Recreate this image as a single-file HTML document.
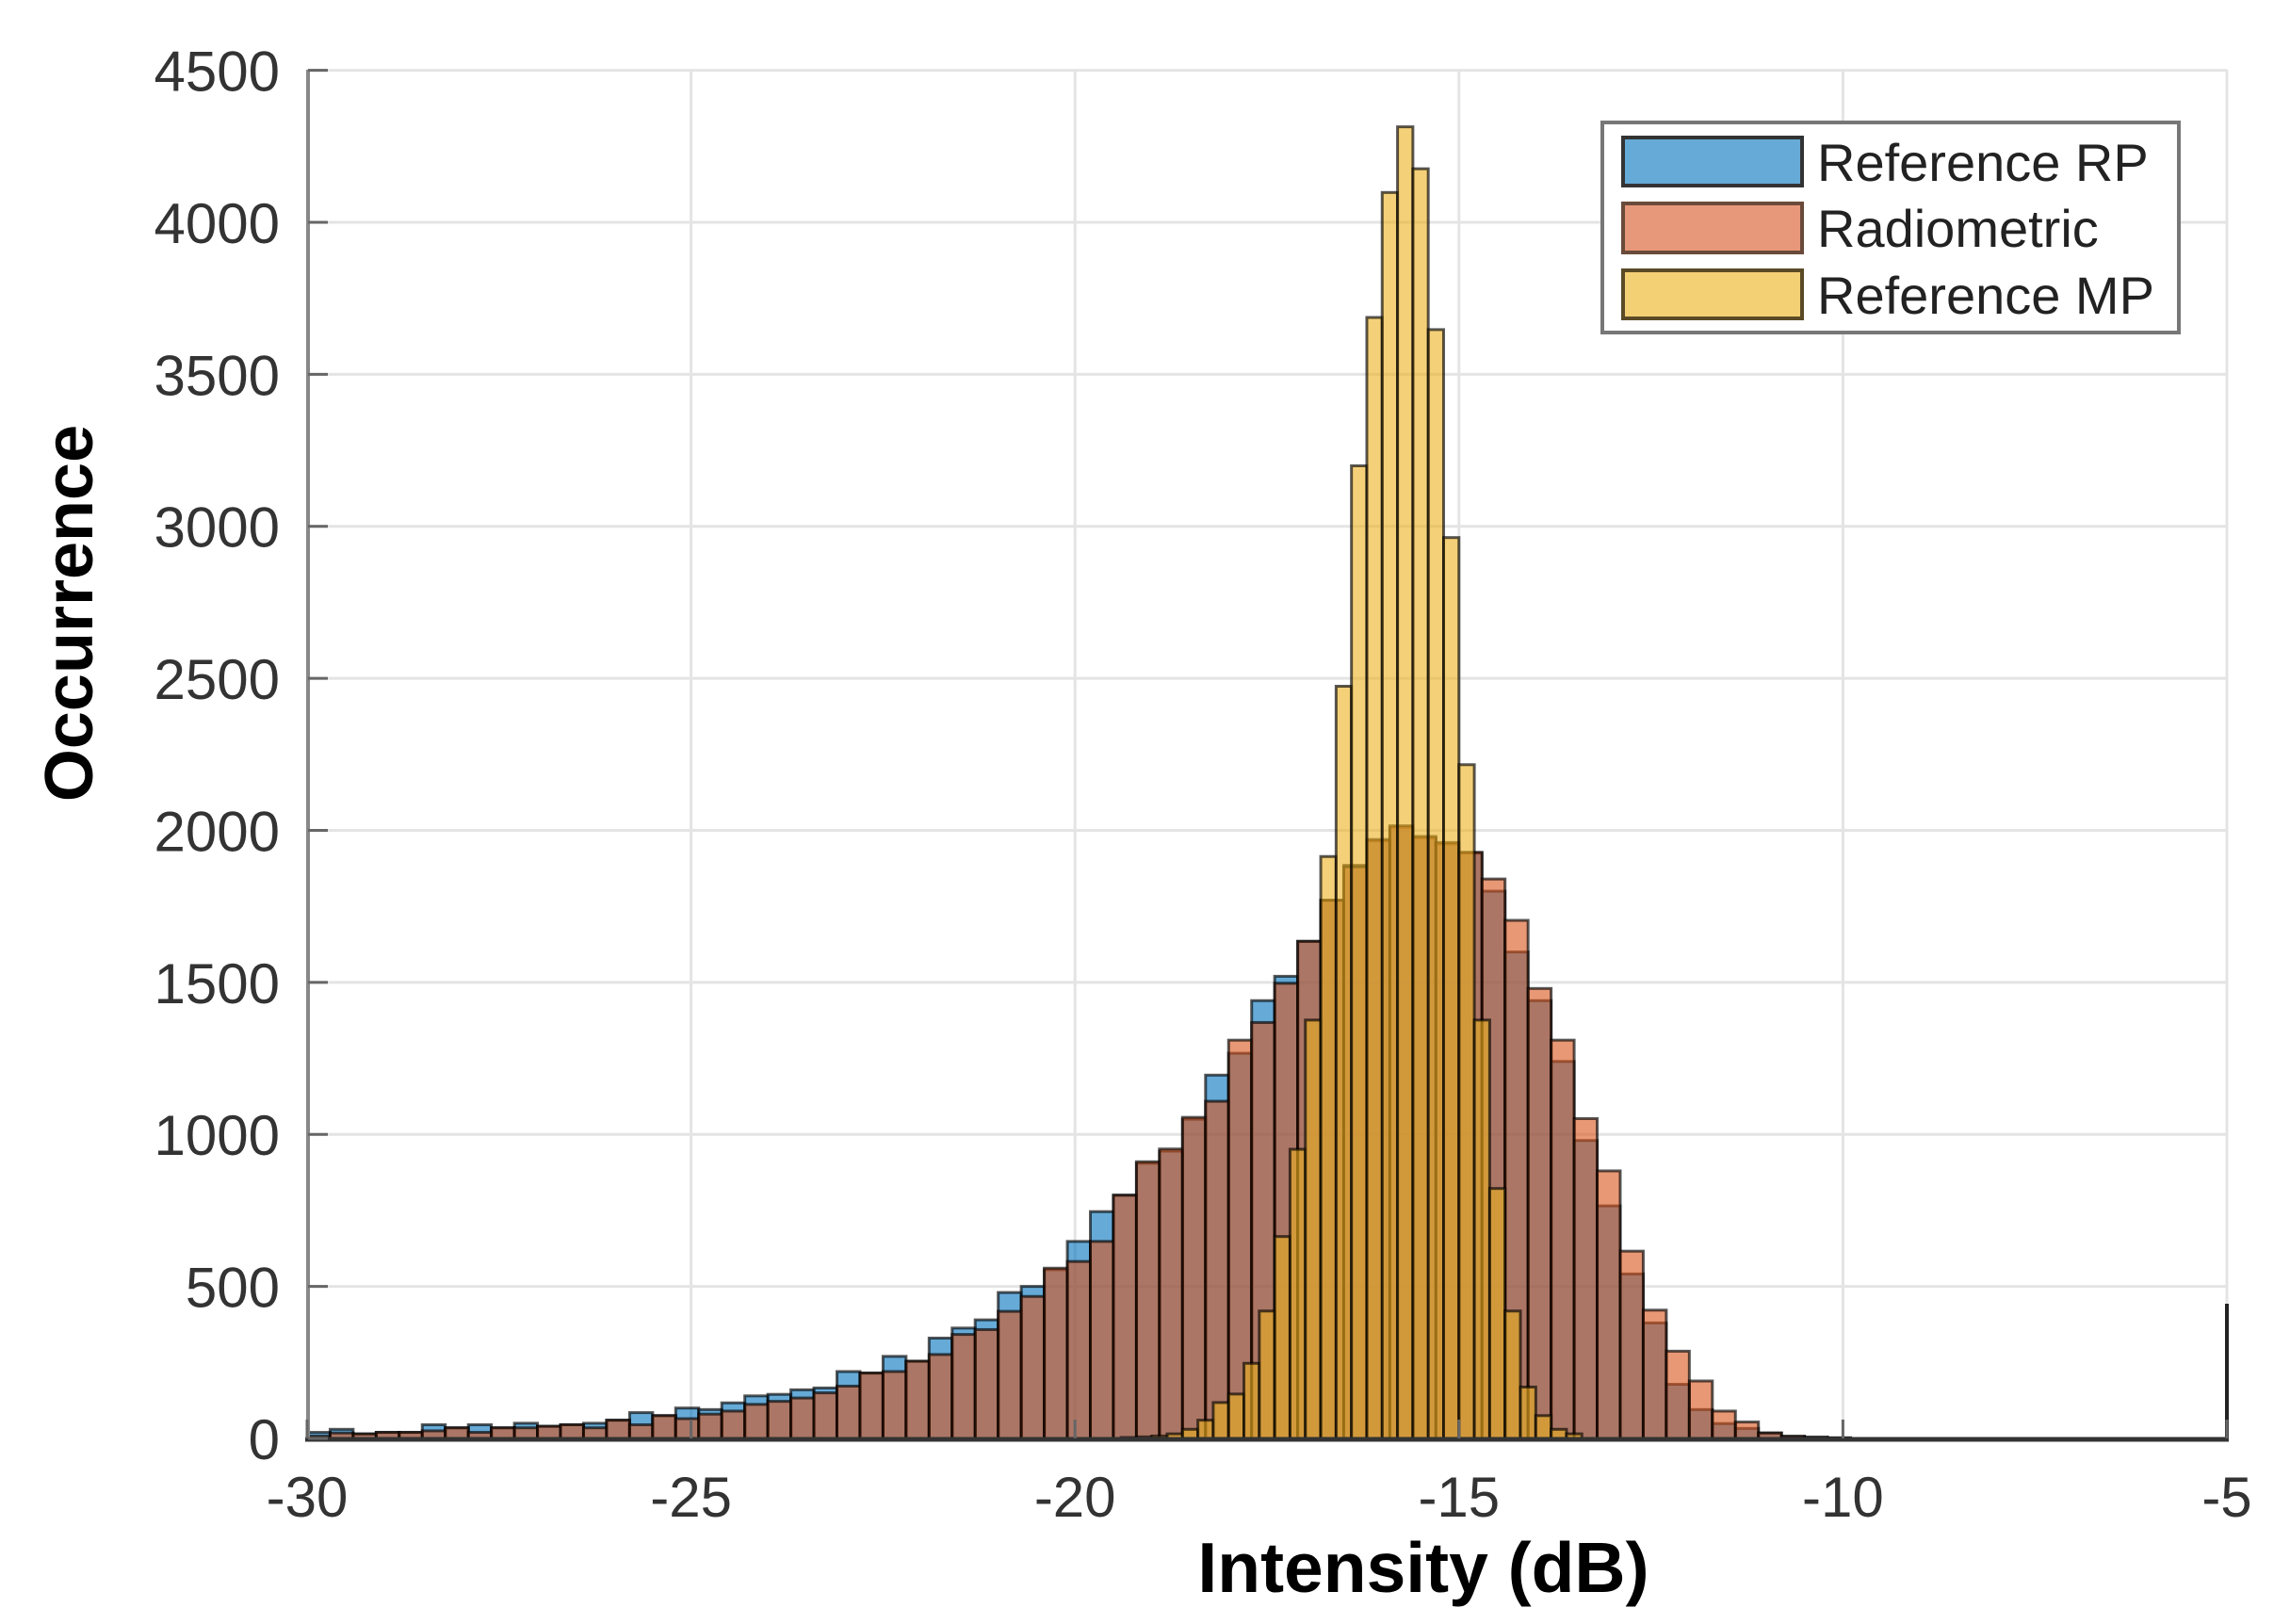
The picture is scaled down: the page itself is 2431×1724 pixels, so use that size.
<!DOCTYPE html>
<html><head><meta charset="utf-8"><style>
html,body{margin:0;padding:0;background:#fff;}
svg{display:block;}
text{font-family:"Liberation Sans",Arial,sans-serif;}
</style></head><body>
<svg id="s" width="2431" height="1724" viewBox="0 0 2431 1724" xmlns="http://www.w3.org/2000/svg">
<rect width="2431" height="1724" fill="#fff"/>
<g id="grid" stroke="#e4e4e4" stroke-width="3"></g>
<g id="bars"></g>
<g id="axes"></g>
<g id="labels" fill="#333" font-size="60"></g>
<text x="1511" y="1690" font-size="75" font-weight="bold" text-anchor="middle" fill="#000">Intensity (dB)</text>
<text transform="translate(98,651) rotate(-90)" font-size="72" font-weight="bold" text-anchor="middle" fill="#000">Occurrence</text>
<rect x="1701" y="130" width="612" height="223" fill="#fff" stroke="#777" stroke-width="4"/>
<rect x="1723" y="146" width="190" height="51" fill="#66aad7" stroke="#333" stroke-width="4"/>
<rect x="1723" y="216" width="190" height="52" fill="#e8987a" stroke="#6a4a3a" stroke-width="4"/>
<rect x="1723" y="287" width="190" height="51" fill="#f4d075" stroke="#5a4a25" stroke-width="4"/>
<text x="1929" y="192" font-size="56" fill="#222">Reference RP</text>
<text x="1929" y="262" font-size="56" fill="#222">Radiometric</text>
<text x="1929" y="333" font-size="56" fill="#222">Reference MP</text>
</svg>
<script>
var NS="http://www.w3.org/2000/svg";
function X(d){return 326+(d+30)*81.52;}
function Y(c){return 1527-c*0.32276;}
function el(p,t,a){var e=document.createElementNS(NS,t);for(var k in a)e.setAttribute(k,a[k]);document.getElementById(p).appendChild(e);return e;}
for(var v=500;v<=4500;v+=500)el("grid","line",{x1:326,x2:2364,y1:Y(v),y2:Y(v)});
[-25,-20,-15,-10,-5].forEach(function(d){el("grid","line",{x1:X(d),x2:X(d),y1:74,y2:1527});});
var blue=[20,30,15,20,20,45,35,45,35,50,40,45,50,60,85,75,100,95,117,140,145,160,166,220,215,270,254,330,363,390,480,500,555,648,746,800,905,945,1050,1195,1267,1440,1520,1635,1770,1885,1965,2010,1975,1955,1925,1800,1600,1440,1240,980,765,541,380,178,95,49,33,18,7,4,2];
var red=[8,18,15,20,20,25,35,20,35,35,40,45,35,60,45,75,65,80,90,112,122,133,150,172,215,220,254,276,342,358,418,467,560,582,648,800,910,952,1056,1109,1310,1368,1497,1635,1770,1880,1970,2015,1980,1960,1928,1840,1704,1480,1310,1052,880,616,422,287,189,90,54,18,7,4,2];
var yel=[3,5,8,15,30,60,118,146,247,419,664,951,1376,1914,2474,3199,3687,4098,4314,4176,3647,2963,2216,1376,822,419,169,75,30,15];
function draw(arr,start,w,col){for(var i=0;i<arr.length;i++){var x0=X(start+i*w),x1=X(start+(i+1)*w),y=Y(arr[i]);
el("bars","rect",{x:x0,y:y,width:x1-x0,height:1527-y,fill:col,"fill-opacity":0.6,stroke:"#000","stroke-opacity":0.65,"stroke-width":3});}}
draw(blue,-30,0.3,"rgb(0,114,189)");
draw(red,-30,0.3,"rgb(217,83,25)");
draw(yel,-19.4,0.2,"rgb(237,177,32)");
el("axes","line",{x1:X(-5),x2:X(-5),y1:1527,y2:1384,stroke:"#222","stroke-width":4});
el("axes","line",{x1:327,x2:327,y1:74,y2:1530,stroke:"#888","stroke-width":4});
el("axes","line",{x1:324,x2:2366,y1:1528,y2:1528,stroke:"#333","stroke-width":5});
for(var v=0;v<=4500;v+=500){el("axes","line",{x1:327,x2:348,y1:Y(v),y2:Y(v),stroke:"#666","stroke-width":3});
var t=el("labels","text",{x:297,y:Y(v)+22,"text-anchor":"end"});t.textContent=v;}
[-30,-25,-20,-15,-10,-5].forEach(function(d){el("axes","line",{x1:X(d),x2:X(d),y1:1527,y2:1507,stroke:"#666","stroke-width":3});
var t=el("labels","text",{x:X(d),y:1610,"text-anchor":"middle"});t.textContent=d;});
</script>
</body></html>
